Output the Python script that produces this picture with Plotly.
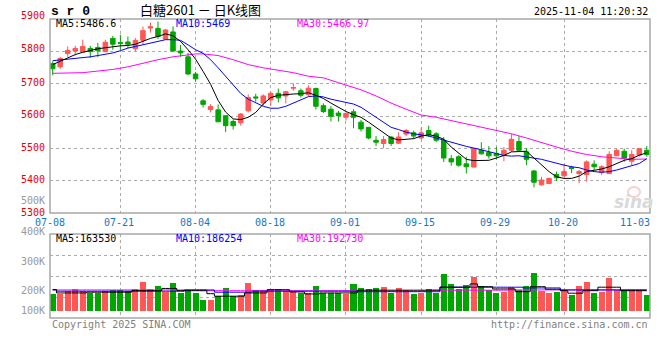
import plotly.graph_objects as go

W, H = 660, 360

# ---------------- data ----------------
dates = ["07-08", "07-09", "07-10", "07-11", "07-14", "07-15", "07-16", "07-17", "07-18",
         "07-21", "07-22", "07-23", "07-24", "07-25", "07-28", "07-29", "07-30", "07-31",
         "08-01", "08-04", "08-05", "08-06", "08-07", "08-08", "08-11", "08-12", "08-13",
         "08-14", "08-15", "08-18", "08-19", "08-20", "08-21", "08-22", "08-25", "08-26",
         "08-27", "08-28", "08-29", "09-01", "09-02", "09-03", "09-04", "09-05", "09-08",
         "09-09", "09-10", "09-11", "09-12", "09-15", "09-16", "09-17", "09-18", "09-19",
         "09-22", "09-23", "09-24", "09-25", "09-26", "09-29", "09-30", "10-09", "10-10",
         "10-13", "10-14", "10-15", "10-16", "10-17", "10-20", "10-21", "10-22", "10-23",
         "10-24", "10-27", "10-28", "10-29", "10-30", "10-31", "11-03", "11-04"]

opens = [5762, 5752, 5793, 5801, 5798, 5809, 5812, 5799, 5840, 5827, 5829, 5808, 5834, 5872,
         5871, 5838, 5860, 5801, 5783, 5730, 5647, 5620, 5619, 5601, 5583, 5579, 5616, 5659,
         5640, 5650, 5670, 5662, 5686, 5678, 5666, 5685, 5632, 5621, 5609, 5596, 5613, 5581,
         5565, 5525, 5515, 5535, 5516, 5544, 5548, 5532, 5555, 5545, 5525, 5468, 5474, 5452,
         5442, 5494, 5487, 5484, 5479, 5494, 5521, 5489, 5430, 5387, 5391, 5419, 5415, 5441,
         5422, 5419, 5451, 5425, 5422, 5477, 5491, 5460, 5479, 5494]
highs = [5769, 5783, 5815, 5817, 5836, 5817, 5826, 5836, 5848, 5851, 5846, 5841, 5877, 5889,
         5892, 5869, 5877, 5820, 5795, 5736, 5652, 5637, 5636, 5601, 5589, 5609, 5667, 5669,
         5667, 5675, 5685, 5678, 5701, 5685, 5695, 5688, 5639, 5630, 5616, 5611, 5621, 5588,
         5565, 5538, 5538, 5538, 5550, 5560, 5555, 5565, 5570, 5550, 5535, 5479, 5479, 5474,
         5501, 5519, 5507, 5504, 5504, 5545, 5538, 5501, 5433, 5412, 5409, 5428, 5451, 5446,
         5433, 5463, 5463, 5448, 5491, 5499, 5499, 5494, 5501, 5507]
lows = [5726, 5746, 5783, 5787, 5798, 5780, 5782, 5799, 5805, 5805, 5810, 5801, 5820, 5858,
        5838, 5836, 5799, 5783, 5726, 5706, 5626, 5611, 5582, 5550, 5558, 5570, 5611, 5644,
        5632, 5632, 5642, 5639, 5678, 5657, 5662, 5620, 5609, 5583, 5583, 5586, 5562, 5552,
        5528, 5507, 5500, 5507, 5514, 5538, 5530, 5528, 5535, 5519, 5458, 5446, 5443, 5422,
        5442, 5481, 5468, 5468, 5460, 5489, 5489, 5448, 5379, 5385, 5389, 5399, 5412, 5423,
        5392, 5397, 5433, 5417, 5422, 5477, 5458, 5448, 5474, 5474]
closes = [5746, 5778, 5803, 5809, 5815, 5799, 5802, 5828, 5822, 5825, 5822, 5834, 5864, 5876,
          5846, 5866, 5801, 5795, 5730, 5715, 5636, 5629, 5582, 5570, 5570, 5606, 5657, 5656,
          5662, 5670, 5656, 5675, 5688, 5664, 5686, 5630, 5614, 5599, 5601, 5608, 5596, 5560,
          5532, 5519, 5527, 5515, 5535, 5555, 5538, 5548, 5542, 5525, 5470, 5458, 5448, 5443,
          5499, 5483, 5477, 5477, 5494, 5528, 5494, 5466, 5395, 5402, 5407, 5409, 5428, 5438,
          5428, 5458, 5443, 5443, 5481, 5494, 5470, 5481, 5499, 5481]

volumes = [167000, 168000, 180000, 185000, 180000, 169000, 169000, 177000, 184000, 184000,
           180000, 185000, 215000, 185000, 199000, 175000, 211000, 171000, 184000, 171000,
           143000, 143000, 157000, 191000, 157000, 164000, 211000, 183000, 183000, 185000,
           185000, 177000, 177000, 169000, 169000, 199000, 172000, 172000, 169000, 167000,
           207000, 191000, 187000, 191000, 195000, 172000, 191000, 183000, 167000, 172000,
           187000, 172000, 247000, 207000, 187000, 203000, 235000, 199000, 183000, 172000,
           176000, 193000, 183000, 199000, 251000, 180000, 171000, 176000, 183000, 163000,
           199000, 216000, 172000, 176000, 232000, 183000, 183000, 183000, 183000, 163000]

ma5 = [5759, 5770, 5780, 5790, 5797, 5803, 5808, 5811, 5815, 5817, 5818, 5822, 5831, 5840,
       5846, 5854, 5848, 5831, 5805, 5776, 5738, 5698, 5648, 5612, 5591, 5589, 5596, 5611,
       5637, 5657, 5664, 5667, 5668, 5669, 5672, 5664, 5654, 5640, 5627, 5614, 5604, 5596,
       5581, 5565, 5550, 5532, 5526, 5528, 5530, 5538, 5542, 5538, 5528, 5504, 5484, 5466,
       5462, 5462, 5463, 5470, 5478, 5489, 5491, 5491, 5470, 5448, 5428, 5412, 5407, 5407,
       5414, 5428, 5432, 5436, 5443, 5453, 5463, 5468, 5479, 5486]
ma10 = [5771, 5773, 5777, 5778, 5780, 5783, 5787, 5791, 5795, 5802, 5810, 5815, 5820, 5826,
        5831, 5836, 5836, 5834, 5820, 5805, 5794, 5774, 5749, 5723, 5698, 5670, 5652, 5640,
        5630, 5624, 5624, 5630, 5640, 5650, 5660, 5662, 5659, 5652, 5647, 5642, 5637, 5627,
        5611, 5596, 5579, 5565, 5558, 5550, 5545, 5542, 5538, 5532, 5525, 5518, 5512, 5506,
        5501, 5496, 5491, 5484, 5478, 5476, 5477, 5474, 5470, 5466, 5460, 5453, 5448, 5443,
        5440, 5433, 5428, 5426, 5428, 5433, 5440, 5446, 5453, 5468]
ma30_idx = [0, 2, 4, 6, 8, 10, 12, 14, 16, 18, 19, 20, 22, 24, 26, 28, 30, 32, 34, 36, 38, 40,
            41, 43, 45, 47, 49, 51, 53, 55, 57, 59, 61, 63, 65, 67, 69, 71, 73, 75, 77, 79]
ma30 = [5732, 5732, 5734, 5739, 5744, 5752, 5764, 5774, 5783, 5789, 5792, 5792, 5787, 5774,
        5759, 5749, 5742, 5734, 5723, 5718, 5703, 5688, 5681, 5662, 5640, 5621, 5603, 5596,
        5586, 5576, 5565, 5555, 5545, 5532, 5517, 5504, 5491, 5481, 5474, 5470, 5466, 5467]

vol_ma5 = [184000, 171000, 171000, 171000, 171000, 174000, 174000, 174000, 174000, 174000,
           174000, 180000, 180000, 180000, 180000, 189000, 189000, 180000, 180000, 180000,
           180000, 168000, 158000, 158000, 158000, 158000, 171000, 171000, 171000, 184000,
           184000, 184000, 175000, 175000, 167000, 167000, 171000, 171000, 171000, 171000,
           171000, 182000, 182000, 182000, 182000, 182000, 182000, 182000, 182000, 182000,
           182000, 182000, 194000, 194000, 194000, 194000, 207000, 196000, 196000, 187000,
           187000, 187000, 176000, 176000, 196000, 196000, 186000, 186000, 180000, 170000,
           170000, 180000, 180000, 194000, 194000, 194000, 180000, 180000, 180000, 180000]
vol_ma10 = [184000] + [178000] * 17 + [183000] * 4 + [174000] * 5 + [178000] * 14 + \
           [176000] * 11 + [194000] * 11 + [191000] * 5 + [183000] * 12
vol_ma30 = [183000] * 21 + [180000] * 20 + [178000] * 10 + [182000] * 10 + [183000] * 19

price_ticks = [5900, 5800, 5700, 5600, 5500, 5400, 5300]
vol_labels = ["500K", "400K", "300K", "200K", "100K"]
label_dates = ["07-08", "07-21", "08-04", "08-18", "09-01", "09-15", "09-29", "10-20", "11-03"]
grid_dates = ["07-21", "08-04", "08-18", "09-01", "09-15", "09-29", "10-20"]

price_legend = ["MA5:5486.6", "MA10:5469", "MA30:5466.97"]
vol_legend = ["MA5:163530", "MA10:186254", "MA30:192730"]

# ---------------- styling / layout ----------------
UP, DOWN = "#FF5656", "#00A600"
C_MA5, C_MA10, C_MA30 = "#000000", "#0000FF", "#FF00FF"
GRID = "#ABABAB"
MONO = "DejaVu Sans Mono"

idx = list(range(len(dates)))
PL, PR = 50, 650
P_TOP, P_BOT = 19, 213
V_TOP, V_BOT = 234, 318
X0_PX, STEP = 52.7, 7.52          # centre of first candle, candle spacing (px)
VBASE_PX, VPX = 310.7, 4000.0     # volume baseline y pixel, lots per pixel
VBASE = 100000


def fx(px):
    return px / W


def fy(py):
    return 1 - py / H


x_range = [(PL - X0_PX) / STEP, (PR - X0_PX) / STEP]
vol_range = [VBASE - (V_BOT - VBASE_PX) * VPX, VBASE + (VBASE_PX - V_TOP) * VPX]
vol_grid = [VBASE + (VBASE_PX - py) * VPX for py in (255, 276, 297)]

fig = go.Figure()

fig.add_trace(go.Candlestick(
    x=idx, open=opens, high=highs, low=lows, close=closes,
    increasing=dict(line=dict(color=UP, width=1), fillcolor=UP),
    decreasing=dict(line=dict(color=DOWN, width=1), fillcolor=DOWN),
    whiskerwidth=0, hoverinfo="skip", showlegend=False, xaxis="x", yaxis="y"))

for ys, xs, col in ((ma30, ma30_idx, C_MA30), (ma10, idx, C_MA10), (ma5, idx, C_MA5)):
    fig.add_trace(go.Scatter(x=xs, y=ys, mode="lines", line=dict(color=col, width=1),
                             hoverinfo="skip", showlegend=False, xaxis="x", yaxis="y"))

bar_colors = [UP if c > o else DOWN for o, c in zip(opens, closes)]
fig.add_trace(go.Bar(x=idx, y=[v - VBASE for v in volumes], base=VBASE,
                     marker=dict(color=bar_colors, line=dict(width=0)), width=0.8,
                     hoverinfo="skip", showlegend=False, xaxis="x2", yaxis="y2"))

for ys, col in ((vol_ma30, C_MA30), (vol_ma10, C_MA10), (vol_ma5, C_MA5)):
    fig.add_trace(go.Scatter(x=idx, y=ys, mode="lines", line=dict(color=col, width=1, shape="hvh"),
                             hoverinfo="skip", showlegend=False, xaxis="x2", yaxis="y2"))

grid_idx = [dates.index(d) for d in grid_dates]
xcommon = dict(domain=[fx(PL), fx(PR)], range=x_range, tickvals=grid_idx, showticklabels=False,
               showgrid=True, gridcolor=GRID, griddash="dot", gridwidth=1, zeroline=False,
               ticks="", showline=False, fixedrange=True)

fig.update_layout(
    width=W, height=H, margin=dict(l=0, r=0, t=0, b=0, autoexpand=False),
    paper_bgcolor="white", plot_bgcolor="white", showlegend=False,
    boxgap=0.15, bargap=0,
    xaxis=dict(anchor="y", rangeslider=dict(visible=False), **xcommon),
    yaxis=dict(domain=[fy(P_BOT), fy(P_TOP)], range=[5300, 5900],
               tickvals=[5400, 5500, 5600, 5700, 5800], showticklabels=False,
               showgrid=True, gridcolor=GRID, griddash="dot", zeroline=False, fixedrange=True),
    xaxis2=dict(anchor="y2", **xcommon),
    yaxis2=dict(domain=[fy(V_BOT), fy(V_TOP)], range=vol_range, tickvals=vol_grid,
                showticklabels=False, showgrid=True, gridcolor=GRID, griddash="dot",
                zeroline=False, fixedrange=True),
)

# panel borders
for top, bot in ((P_TOP, P_BOT), (V_TOP, V_BOT)):
    fig.add_shape(type="rect", xref="paper", yref="paper", x0=fx(PL), x1=fx(PR),
                  y0=fy(bot), y1=fy(top), line=dict(color="#A8A8A8", width=1.5))

anns = []


def txt(text, x, y, color="#000", size=10, xanchor="left", family=MONO, **kw):
    anns.append(dict(text=text, x=fx(x), y=fy(y), xref="paper", yref="paper",
                     xanchor=xanchor, yanchor="middle", showarrow=False,
                     font=dict(family=family, size=size, color=color), **kw))


# header
anns.append(dict(text="<b>s r 0</b>", x=fx(49), y=fy(12), xref="paper", yref="paper",
                 xanchor="left", yanchor="middle", showarrow=False,
                 font=dict(family="Liberation Mono", size=13, color="#000")))
txt("白糖2601 － 日K线图", 200, 9.5, size=13, xanchor="center", family="Noto Sans CJK SC")
txt("2025-11-04 11:20:32", 650, 11.5, xanchor="right")

# price axis labels (red)
shifts = {5900: 3.5, 5800: 3, 5300: 0.5}
for p in price_ticks:
    anns.append(dict(text=str(p), x=fx(46.5), y=p, xref="paper", yref="y", xanchor="right",
                     yanchor="middle", yshift=shifts.get(p, 1.2), showarrow=False,
                     font=dict(family=MONO, size=10, color="#E60000")))

# volume axis labels (grey)
for lab, py in zip(vol_labels, (200, 231, 261, 290, 310)):
    txt(lab, 46.5, py, color="#999999", xanchor="right")

# date labels
for d in label_dates:
    i = dates.index(d)
    shift = -3 if d == label_dates[0] else (-4.6 if d == label_dates[-1] else -1)
    anns.append(dict(text=d, x=i, y=fy(222), xref="x", yref="paper", xanchor="center",
                     yanchor="middle", xshift=shift, showarrow=False,
                     font=dict(family=MONO, size=10, color="#1876C8")))

# legends
for (t, col, x) in zip(price_legend, (C_MA5, C_MA10, C_MA30), (54, 174, 295)):
    txt(t, x, 24, color=col)
for (t, col, x) in zip(vol_legend, (C_MA5, C_MA10, C_MA30), (54, 174, 295)):
    txt(t, x, 238, color=col)

# footer
txt("Copyright 2025 SINA.COM", 50, 324.5, color="#808080")
txt("http://finance.sina.com.cn", 650, 324.5, color="#808080", xanchor="right")

# watermark
anns.append(dict(text="<b><i>sina</i></b>", x=fx(634), y=fy(202), xref="paper", yref="paper",
                 xanchor="center", yanchor="middle", showarrow=False,
                 font=dict(family="DejaVu Sans", size=17, color="#D9D9D9")))

fig.update_layout(annotations=anns)
fig.add_shape(type="circle", xref="paper", yref="paper", x0=fx(628), x1=fx(640),
              y0=fy(197), y1=fy(187), line=dict(color="#F6CFCF", width=2))

fig.write_html("out.html", config={"displayModeBar": False},
               post_script="document.body.style.margin='0';document.body.style.overflow='hidden';")
